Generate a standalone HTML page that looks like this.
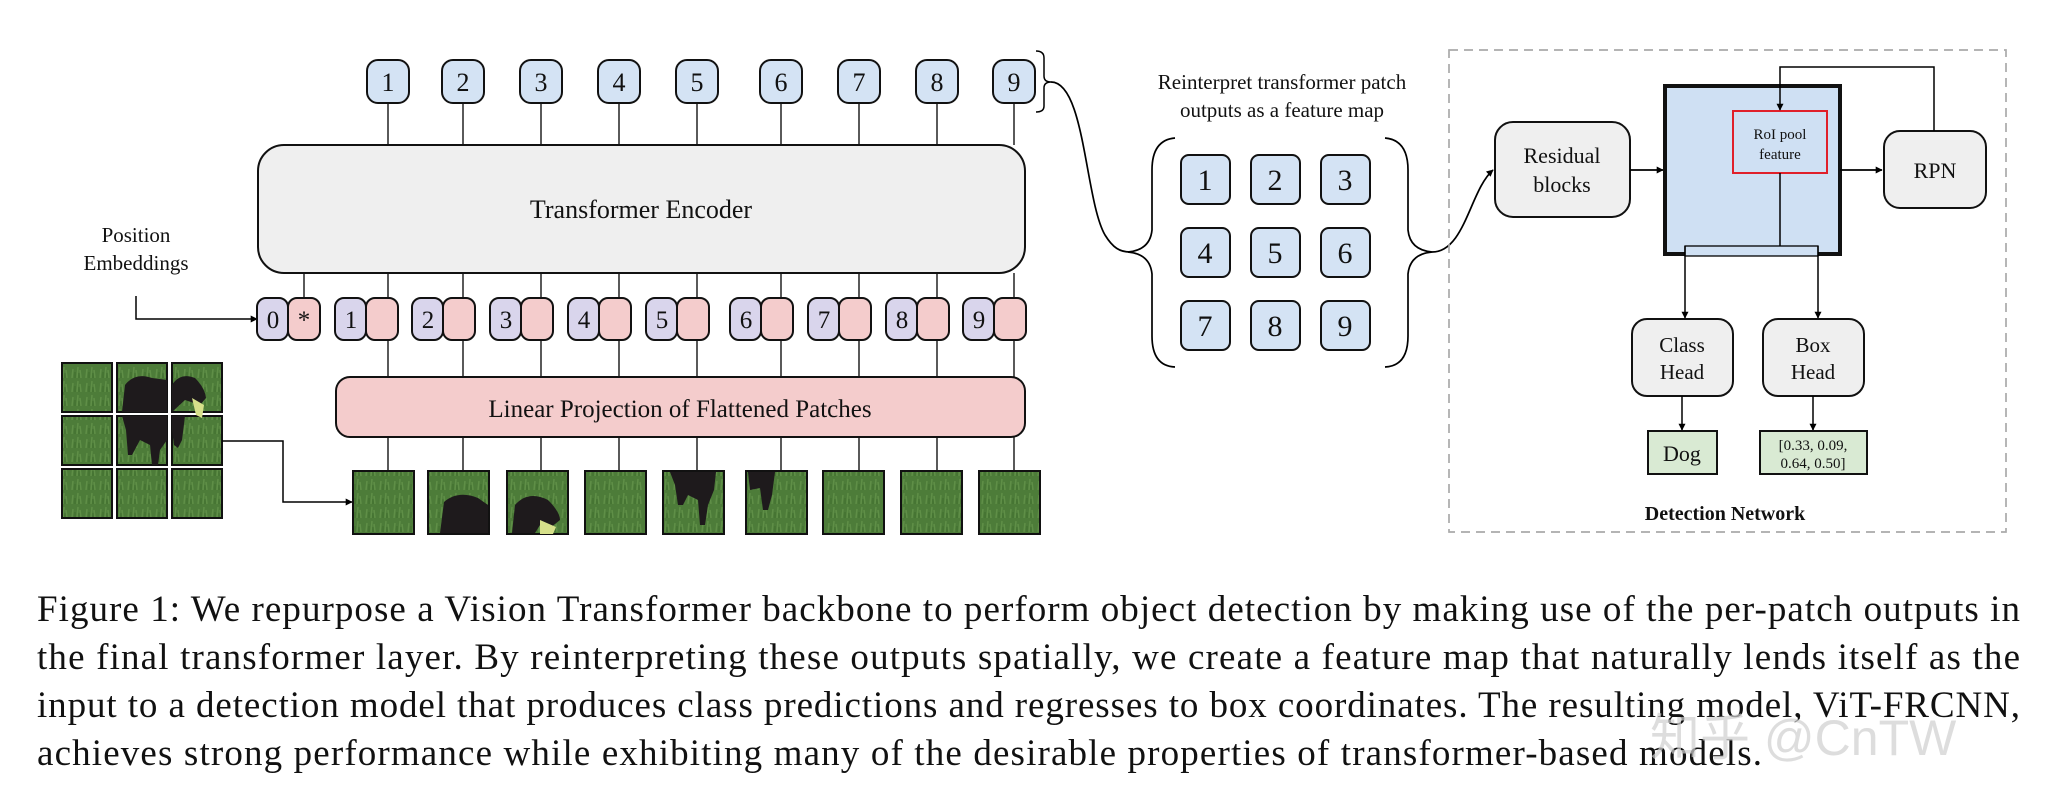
<!DOCTYPE html>
<html><head><meta charset="utf-8"><style>
html,body{margin:0;padding:0;background:#fff;}
svg{display:block;}
text{font-family:"Liberation Serif",serif;fill:#111;}
</style></head><body>
<svg width="2064" height="808" viewBox="0 0 2064 808" xmlns="http://www.w3.org/2000/svg">
<defs>
<marker id="ar" viewBox="0 0 10 10" refX="9" refY="5" markerWidth="7" markerHeight="7" orient="auto" markerUnits="userSpaceOnUse"><path d="M0,0 L10,5 L0,10 z" fill="#000"/></marker>
<pattern id="grass" width="14" height="14" patternUnits="userSpaceOnUse"><rect width="14" height="14" fill="#4d7c39"/><path d="M2,14 L3,5 M7,14 L8,3 M11,14 L10,6" stroke="#5f8f47" stroke-width="1.5"/><path d="M5,14 L5,8 M9,14 L9,9" stroke="#41702f" stroke-width="1.2"/></pattern>
</defs>

<g stroke="#000" stroke-width="1.3">
<line x1="388" y1="103" x2="388" y2="145"/><line x1="463" y1="103" x2="463" y2="145"/><line x1="541" y1="103" x2="541" y2="145"/><line x1="619" y1="103" x2="619" y2="145"/><line x1="697" y1="103" x2="697" y2="145"/><line x1="781" y1="103" x2="781" y2="145"/><line x1="859" y1="103" x2="859" y2="145"/><line x1="937" y1="103" x2="937" y2="145"/><line x1="1014" y1="103" x2="1014" y2="145"/>
<line x1="304" y1="273" x2="304" y2="298"/>
<line x1="388" y1="273" x2="388" y2="471"/><line x1="463" y1="273" x2="463" y2="471"/><line x1="541" y1="273" x2="541" y2="471"/><line x1="619" y1="273" x2="619" y2="471"/><line x1="697" y1="273" x2="697" y2="471"/><line x1="781" y1="273" x2="781" y2="471"/><line x1="859" y1="273" x2="859" y2="471"/><line x1="937" y1="273" x2="937" y2="471"/><line x1="1014" y1="273" x2="1014" y2="471"/>
</g>

<g fill="#d4e3f4" stroke="#111" stroke-width="2">
<rect x="367" y="60" width="42" height="43" rx="11"/><rect x="442" y="60" width="42" height="43" rx="11"/><rect x="520" y="60" width="42" height="43" rx="11"/><rect x="598" y="60" width="42" height="43" rx="11"/><rect x="676" y="60" width="42" height="43" rx="11"/><rect x="760" y="60" width="42" height="43" rx="11"/><rect x="838" y="60" width="42" height="43" rx="11"/><rect x="916" y="60" width="42" height="43" rx="11"/><rect x="993" y="60" width="42" height="43" rx="11"/>
</g>
<g font-size="26" text-anchor="middle">
<text x="388" y="91">1</text><text x="463" y="91">2</text><text x="541" y="91">3</text><text x="619" y="91">4</text><text x="697" y="91">5</text><text x="781" y="91">6</text><text x="859" y="91">7</text><text x="937" y="91">8</text><text x="1014" y="91">9</text>
</g>

<rect x="258" y="145" width="767" height="128" rx="26" fill="#efefef" stroke="#111" stroke-width="2"/>
<text x="641" y="218" font-size="26" text-anchor="middle">Transformer Encoder</text>

<text x="136" y="242" font-size="21" text-anchor="middle">Position</text>
<text x="136" y="270" font-size="21" text-anchor="middle">Embeddings</text>
<path d="M136,296 L136,319 L257,319" fill="none" stroke="#000" stroke-width="1.5" marker-end="url(#ar)"/>

<g stroke="#111" stroke-width="2">
<rect x="257" y="298" width="31" height="42" rx="9" fill="#d9d5ec"/><rect x="288" y="298" width="32" height="42" rx="9" fill="#f4cccc"/>
<rect x="335" y="298" width="31" height="42" rx="9" fill="#d9d5ec"/><rect x="366" y="298" width="32" height="42" rx="9" fill="#f4cccc"/>
<rect x="412" y="298" width="31" height="42" rx="9" fill="#d9d5ec"/><rect x="443" y="298" width="32" height="42" rx="9" fill="#f4cccc"/>
<rect x="490" y="298" width="31" height="42" rx="9" fill="#d9d5ec"/><rect x="521" y="298" width="32" height="42" rx="9" fill="#f4cccc"/>
<rect x="568" y="298" width="31" height="42" rx="9" fill="#d9d5ec"/><rect x="599" y="298" width="32" height="42" rx="9" fill="#f4cccc"/>
<rect x="646" y="298" width="31" height="42" rx="9" fill="#d9d5ec"/><rect x="677" y="298" width="32" height="42" rx="9" fill="#f4cccc"/>
<rect x="730" y="298" width="31" height="42" rx="9" fill="#d9d5ec"/><rect x="761" y="298" width="32" height="42" rx="9" fill="#f4cccc"/>
<rect x="808" y="298" width="31" height="42" rx="9" fill="#d9d5ec"/><rect x="839" y="298" width="32" height="42" rx="9" fill="#f4cccc"/>
<rect x="886" y="298" width="31" height="42" rx="9" fill="#d9d5ec"/><rect x="917" y="298" width="32" height="42" rx="9" fill="#f4cccc"/>
<rect x="963" y="298" width="31" height="42" rx="9" fill="#d9d5ec"/><rect x="994" y="298" width="32" height="42" rx="9" fill="#f4cccc"/>
</g>
<g font-size="25" text-anchor="middle">
<text x="273" y="328">0</text><text x="304" y="328">*</text>
<text x="351" y="328">1</text><text x="428" y="328">2</text><text x="506" y="328">3</text><text x="584" y="328">4</text><text x="662" y="328">5</text><text x="746" y="328">6</text><text x="824" y="328">7</text><text x="902" y="328">8</text><text x="979" y="328">9</text>
</g>

<rect x="336" y="377" width="689" height="60" rx="14" fill="#f4cccc" stroke="#111" stroke-width="2"/>
<text x="680" y="417" font-size="25" text-anchor="middle">Linear Projection of Flattened Patches</text>

<g stroke="#111" stroke-width="2" fill="url(#grass)">
<rect x="62" y="363" width="50" height="49"/><rect x="117" y="363" width="50" height="49"/><rect x="172" y="363" width="50" height="49"/>
<rect x="62" y="416" width="50" height="49"/><rect x="117" y="416" width="50" height="49"/><rect x="172" y="416" width="50" height="49"/>
<rect x="62" y="469" width="50" height="49"/><rect x="117" y="469" width="50" height="49"/><rect x="172" y="469" width="50" height="49"/>
</g>
<g fill="#1e1a1c">
<path d="M122,412 L125,385 Q135,372 152,378 L167,380 L167,412 Z"/>
<path d="M172,385 Q180,372 195,378 Q205,388 206,398 L200,405 L185,400 L172,412 Z"/>
<path d="M122,416 L167,416 L167,440 L160,450 L158,465 L152,465 L150,445 L140,440 L132,455 L128,455 L126,430 Z"/>
<path d="M172,416 L185,416 L182,440 L178,448 L174,445 L172,430 Z"/>
</g>
<path d="M192,398 L204,405 L202,418 L196,415 Z" fill="#d6e08a"/>
<path d="M222,441 L283,441 L283,502 L352,502" fill="none" stroke="#000" stroke-width="1.5" marker-end="url(#ar)"/>

<g stroke="#111" stroke-width="2" fill="url(#grass)">
<rect x="353" y="471" width="61" height="63"/><rect x="428" y="471" width="61" height="63"/><rect x="507" y="471" width="61" height="63"/><rect x="585" y="471" width="61" height="63"/><rect x="663" y="471" width="61" height="63"/><rect x="746" y="471" width="61" height="63"/><rect x="823" y="471" width="61" height="63"/><rect x="901" y="471" width="61" height="63"/><rect x="979" y="471" width="61" height="63"/>
</g>
<g fill="#1e1a1c">
<path d="M440,533 L444,502 Q458,490 478,498 L488,505 L488,533 Z"/>
<path d="M512,533 L515,505 Q528,490 548,500 Q560,512 560,520 L550,528 L540,525 L535,533 Z"/>
<path d="M670,472 L716,472 L714,490 L708,505 L705,525 L700,525 L698,500 L688,495 L683,505 L678,505 L675,485 Z"/>
<path d="M748,472 L775,472 L772,495 L768,510 L763,510 L760,488 L750,490 Z"/>
</g>
<path d="M540,520 L556,527 L553,534 L540,534 Z" fill="#d6e08a"/>

<path d="M1036,51 Q1044,51 1044,58 L1044,76 Q1044,82 1051,82 Q1044,82 1044,88 L1044,106 Q1044,112 1036,112" fill="none" stroke="#000" stroke-width="1.5"/>
<path d="M1051,82 C1085,82 1085,200 1105,235 C1113,248 1120,252 1130,252" fill="none" stroke="#000" stroke-width="1.7"/>

<text x="1282" y="89" font-size="21" text-anchor="middle">Reinterpret transformer patch</text>
<text x="1282" y="117" font-size="21" text-anchor="middle">outputs as a feature map</text>

<path d="M1175,138 Q1152,140 1152,170 L1152,230 Q1150,250 1128,252 Q1150,254 1152,274 L1152,336 Q1152,366 1175,367" fill="none" stroke="#000" stroke-width="1.7"/>
<path d="M1385,138 Q1408,140 1408,170 L1408,230 Q1410,250 1432,252 Q1410,254 1408,274 L1408,336 Q1408,366 1385,367" fill="none" stroke="#000" stroke-width="1.7"/>
<path d="M1432,252 C1465,252 1470,190 1493,170" fill="none" stroke="#000" stroke-width="1.7" marker-end="url(#ar)"/>

<g fill="#d4e3f4" stroke="#111" stroke-width="2">
<rect x="1181" y="155" width="49" height="49" rx="8"/><rect x="1251" y="155" width="49" height="49" rx="8"/><rect x="1321" y="155" width="49" height="49" rx="8"/>
<rect x="1181" y="228" width="49" height="49" rx="8"/><rect x="1251" y="228" width="49" height="49" rx="8"/><rect x="1321" y="228" width="49" height="49" rx="8"/>
<rect x="1181" y="301" width="49" height="49" rx="8"/><rect x="1251" y="301" width="49" height="49" rx="8"/><rect x="1321" y="301" width="49" height="49" rx="8"/>
</g>
<g font-size="30" text-anchor="middle">
<text x="1205" y="190">1</text><text x="1275" y="190">2</text><text x="1345" y="190">3</text>
<text x="1205" y="263">4</text><text x="1275" y="263">5</text><text x="1345" y="263">6</text>
<text x="1205" y="336">7</text><text x="1275" y="336">8</text><text x="1345" y="336">9</text>
</g>

<rect x="1449" y="50" width="557" height="482" fill="none" stroke="#aaa" stroke-width="1.7" stroke-dasharray="9,6"/>
<rect x="1495" y="122" width="135" height="95" rx="18" fill="#efefef" stroke="#111" stroke-width="2"/>
<text x="1562" y="163" font-size="22" text-anchor="middle">Residual</text>
<text x="1562" y="192" font-size="22" text-anchor="middle">blocks</text>
<line x1="1630" y1="170" x2="1663" y2="170" stroke="#000" stroke-width="1.7" marker-end="url(#ar)"/>

<rect x="1665" y="86" width="175" height="168" fill="#cfe0f3" stroke="#111" stroke-width="4"/>
<rect x="1733" y="111" width="94" height="62" fill="#cfe0f3" stroke="#e0202a" stroke-width="2"/>
<text x="1780" y="139" font-size="15" text-anchor="middle">RoI pool</text>
<text x="1780" y="159" font-size="15" text-anchor="middle">feature</text>
<line x1="1840" y1="170" x2="1882" y2="170" stroke="#000" stroke-width="1.7" marker-end="url(#ar)"/>
<rect x="1884" y="131" width="102" height="77" rx="16" fill="#efefef" stroke="#111" stroke-width="2"/>
<text x="1935" y="178" font-size="22" text-anchor="middle">RPN</text>
<path d="M1934,131 L1934,67 L1780,67 L1780,110" fill="none" stroke="#000" stroke-width="1.5" marker-end="url(#ar)"/>
<line x1="1780" y1="173" x2="1780" y2="246" stroke="#000" stroke-width="1.5"/>
<rect x="1685" y="246" width="133" height="10" fill="#cfe0f3" stroke="#000" stroke-width="1.3"/>
<line x1="1685" y1="246" x2="1685" y2="318" stroke="#000" stroke-width="1.5" marker-end="url(#ar)"/>
<line x1="1818" y1="246" x2="1818" y2="318" stroke="#000" stroke-width="1.5" marker-end="url(#ar)"/>

<rect x="1632" y="319" width="101" height="77" rx="15" fill="#efefef" stroke="#111" stroke-width="2"/>
<text x="1682" y="352" font-size="21" text-anchor="middle">Class</text>
<text x="1682" y="379" font-size="21" text-anchor="middle">Head</text>
<rect x="1763" y="319" width="101" height="77" rx="15" fill="#efefef" stroke="#111" stroke-width="2"/>
<text x="1813" y="352" font-size="21" text-anchor="middle">Box</text>
<text x="1813" y="379" font-size="21" text-anchor="middle">Head</text>
<line x1="1682" y1="396" x2="1682" y2="430" stroke="#000" stroke-width="1.5" marker-end="url(#ar)"/>
<line x1="1813" y1="396" x2="1813" y2="430" stroke="#000" stroke-width="1.5" marker-end="url(#ar)"/>
<rect x="1648" y="431" width="69" height="43" fill="#d9ead3" stroke="#111" stroke-width="2"/>
<text x="1682" y="461" font-size="22" text-anchor="middle">Dog</text>
<rect x="1760" y="431" width="107" height="43" fill="#d9ead3" stroke="#111" stroke-width="2"/>
<text x="1813" y="450" font-size="15" text-anchor="middle">[0.33, 0.09,</text>
<text x="1813" y="468" font-size="15" text-anchor="middle">0.64, 0.50]</text>
<text x="1725" y="520" font-size="20" font-weight="bold" text-anchor="middle">Detection Network</text>

<g font-size="37">
<text x="37" y="621" textLength="1983" lengthAdjust="spacing">Figure 1: We repurpose a Vision Transformer backbone to perform object detection by making use of the per-patch outputs in</text>
<text x="37" y="669" textLength="1983" lengthAdjust="spacing">the final transformer layer. By reinterpreting these outputs spatially, we create a feature map that naturally lends itself as the</text>
<text x="37" y="717" textLength="1983" lengthAdjust="spacing">input to a detection model that produces class predictions and regresses to box coordinates. The resulting model, ViT-FRCNN,</text>
<text x="37" y="765" textLength="1725" lengthAdjust="spacing">achieves strong performance while exhibiting many of the desirable properties of transformer-based models.</text>
</g>
<text x="1650" y="755" font-size="50" style="fill:#d0d0d0;font-family:'Liberation Sans','Noto Sans CJK SC',sans-serif;" opacity="0.7">知乎 @CnTW</text>
</svg>
</body></html>
